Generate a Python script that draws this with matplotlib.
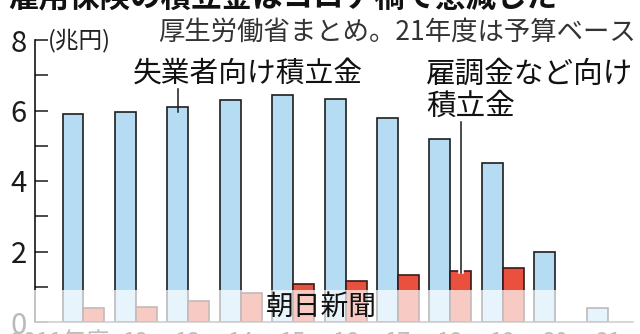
import numpy as np
import matplotlib.pyplot as plt
import matplotlib.patches as patches

plt.rcParams['font.family'] = ['Noto Sans CJK JP', 'DejaVu Sans']

# 雇用保険の積立金（兆円）
years = ['2011年度', '12', '13', '14', '15', '16', '17', '18', '19', '20', '21']
unemployment_fund = [5.89, 5.95, 6.09, 6.30, 6.44, 6.33, 5.80, 5.18, 4.50, 1.99, 0.41]
subsidy_fund = [0.39, 0.43, 0.60, 0.83, 1.07, 1.17, 1.33, 1.45, 1.54, 0.0, 0.0]

W, H = 640, 334
fig = plt.figure(figsize=(W / 100, H / 100), dpi=100)

def fx(px):
    return px / W

def fy(py):
    return 1 - py / H

ax = fig.add_axes([fx(35), 12 / H, 598 / W, 282 / H])

x = np.arange(len(years))
red = np.array(subsidy_fund, dtype=float)
red[red == 0] = np.nan

ax.bar(x - 0.2, unemployment_fund, width=0.4, color='#b5dcf3',
       edgecolor='#1e1e1e', linewidth=1.2, zorder=2)
ax.bar(x + 0.2, red, width=0.4, color='#e9503d',
       edgecolor='#3a1a1a', linewidth=1.2, zorder=2)

ax.set_xlim(-0.925, 10.483)
ax.set_ylim(0, 8)
for s in ['top', 'right']:
    ax.spines[s].set_visible(False)
ax.spines['left'].set_linewidth(1.1)
ax.spines['bottom'].set_linewidth(1.1)
ax.spines['bottom'].set_color('#555555')

ax.set_yticks([0, 2, 4, 6, 8])
ax.set_yticks([1, 3, 5, 7], minor=True)
ax.tick_params(axis='y', which='both', direction='in', length=9.5, width=1.1,
               labelsize=21, pad=6, colors='#1a1a1a')
ax.set_xticks([])

# 年度ラベル（下端で切れる）
for i, lab in enumerate(years):
    if i == 0:
        ax.text(i + 0.5, -0.26, lab, ha='right', va='top', fontsize=17,
                color='#222222', clip_on=False)
    else:
        ax.text(i, -0.26, lab, ha='center', va='top', fontsize=17,
                color='#222222', clip_on=False)

# 引き出し線
ax.plot([1.8, 1.8], [6.6, 5.96], color='#1a1a1a', lw=1.1, zorder=3)
ax.plot([7.2, 7.2], [5.68, 1.45], color='white', lw=4, zorder=2.5)
ax.plot([7.2, 7.2], [5.68, 1.39], color='#1a1a1a', lw=1.1, zorder=3)

fig.text(fx(8), fy(-3), '雇用保険の積立金はコロナ禍で急減した', fontsize=22,
         fontweight='bold', ha='left', va='center', color='#111111')
fig.text(fx(636), fy(32), '厚生労働省まとめ。21年度は予算ベース', fontsize=19,
         ha='right', va='center', color='#333333')
fig.text(fx(48), fy(41), '(兆円)', fontsize=17, ha='left', va='center',
         color='#222222')
fig.text(fx(133), fy(74), '失業者向け積立金', fontsize=20.7, ha='left',
         va='center', color='#111111')
fig.text(fx(426), fy(74), '雇調金など向け', fontsize=21.3, ha='left',
         va='center', color='#111111')
fig.text(fx(426), fy(106), '積立金', fontsize=21.3, ha='left', va='center',
         color='#111111')

# 下部の白い帯とクレジット
band = patches.Rectangle((0, 0), 1, (H - 290) / H, transform=fig.transFigure,
                         facecolor='white', alpha=0.7, edgecolor='none',
                         zorder=5)
fig.patches.append(band)
fig.text(fx(321), fy(307), '朝日新聞', fontsize=20, ha='center', va='center',
         color='#111111', zorder=6)

fig.savefig('out.png', dpi=100)
